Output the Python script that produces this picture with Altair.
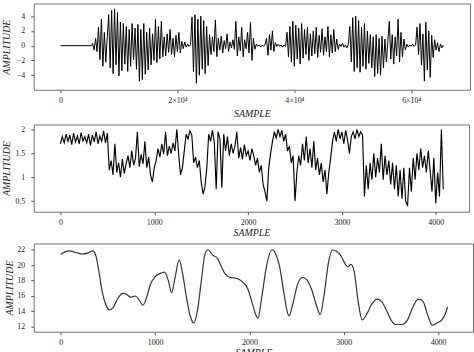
import altair as alt
import numpy as np
import pandas as pd

# ---------------- Panel 1: speech waveform (65536 samples) ----------------
speech_lead_x = [0, 5300]
speech_lead_y = [0.0, 0.0]
speech_start = 5500
speech_step = 250
speech_amp = [
    0.3, -0.6, 1.0, -0.8,
    2.5, -1.9, 3.6,
    -2.8, 1.8, -2.2, 1.2,
    4.2, -3.0, 4.8, -3.8, 5.0, -2.6, 4.5, -4.1, 3.2, -3.4,
    3.0, -2.5, 2.6, -3.5, 2.2, -2.8, 3.0, -1.9, 2.4,
    -3.2, 2.9, -4.8, 2.2, -4.6, 3.0, -3.9, 1.8,
    -3.3, 2.4, -2.6, 1.6, -2.0,
    3.6, -2.3, 2.6, -1.8, 3.3, -1.5,
    1.2, -1.4, 1.6, -0.9, 2.2, -1.2, 1.0, -1.5, 1.4, -0.8, 1.8, -1.0, 0.6, -0.4, 0.5,
    -0.2, 0.2, -0.1, 0.1,
    3.9, -3.5, 4.2, -5.1, 3.6, -4.0, 4.0, -3.2, 3.4, -3.8, 2.6, -2.7, 1.5, -1.2,
    1.2, -0.8, 3.5, -1.5, 1.0, -0.6, 1.3, -1.0, 0.7, -0.4, 1.6, -0.8, 0.5, -0.3, 0.8,
    -0.5, 3.3, -1.4, 1.2, -0.7, 2.5, -1.5, 0.8, -0.4, 1.8, -1.0, 3.2, -2.0, 1.0, -0.5,
    0.2, -0.1, 0.1, -0.2, 0.1, -0.1, 0.2,
    1.0, -1.3, 1.5, -0.6, 2.0, -0.8, 0.4,
    -0.1, 0.2, -0.1, 0.1, -0.2, 0.1, -0.1,
    1.8, -1.5, 2.6, -2.2, 3.3, -2.8, 2.8, -1.8, 2.4, -2.5, 3.0, -1.7, 2.2, -1.2,
    2.5, -2.0, 1.6, -1.4, 2.0, -1.1, 2.5, -1.6, 1.4, -0.9, 2.3, -1.3, 1.2, -0.8, 2.6, -1.5, 1.5, -1.0, 2.2, -0.8, 0.9, -0.5,
    0.2, -0.1, 0.3, -0.2, 0.1, -0.3, 0.2,
    2.6, -2.2, 3.8, -3.5, 4.0, -3.0, 3.4, -3.6, 2.5, -2.8, 3.0, -3.2, 2.0, -2.4, 1.5, -3.0,
    1.2, -4.2, 1.5, -3.8, 1.0, -4.0, 1.3, -3.0, 0.9, -2.2, 0.6,
    3.3, -1.8, 1.5, -2.5, 1.2, -1.4, 3.6, -2.2, 1.8, -1.5, 0.9, -0.6,
    0.2, -0.2, 0.1, -0.1, 0.2, -0.1, 0.1,
    2.5, -1.2, 3.0, -2.6, 1.6, -4.8, 3.2, -3.3, 2.0, -4.3, 1.4, -1.6, 0.8,
    -0.6, 0.4, -0.8, 0.2, -0.3, 0.1,
]

# ---------------- Panel 2: noisy level trace (4096 samples) ----------------
level_step = 20
level_val = [
    1.70, 1.85, 1.72, 1.90, 1.75, 1.88, 1.68, 1.92, 1.74, 1.86,
    1.70, 1.93, 1.76, 1.85, 1.72, 1.90, 1.66, 1.88, 1.74, 1.95,
    1.70, 1.86, 1.75, 1.97, 1.72, 1.92,
    1.15,
    1.35, 1.05, 1.70, 1.10, 1.30, 1.00, 1.38, 1.08, 1.28,
    1.45, 1.20, 1.55, 1.25, 1.40, 1.95, 1.22, 1.48, 1.28, 1.75, 1.20, 1.42,
    1.05, 0.90, 1.20, 1.35,
    1.60, 1.42, 1.70, 1.48, 1.95, 1.45, 1.65, 1.50, 1.72, 1.55, 2.00, 1.48,
    1.05, 1.20, 1.55,
    1.90, 1.80, 1.97, 1.88,
    1.30, 1.42, 1.20, 1.35,
    0.90, 0.65, 0.80, 1.20,
    1.90, 1.75, 1.98, 1.72, 0.75, 1.95, 1.80, 0.78, 1.90,
    1.55, 1.85, 1.45, 1.70,
    1.50, 1.65, 1.95,
    1.40, 1.62, 1.38, 1.68, 1.45, 1.55, 1.35, 1.60,
    1.45, 1.25, 1.40, 1.10, 1.25, 0.85, 0.70,
    0.50,
    1.20, 1.50, 1.75, 1.95,
    1.82, 2.00, 1.85, 1.98, 1.75, 1.90,
    1.55, 1.65, 1.30, 1.45,
    0.50,
    1.10, 1.45, 1.25, 1.70, 1.35, 1.85, 1.30, 1.60, 1.20, 1.75,
    1.15, 1.40, 1.05, 1.30, 0.90, 1.15, 0.65,
    1.10, 1.40, 1.75,
    1.95, 1.75, 2.00, 1.80, 1.95, 1.70, 1.98, 1.78, 1.50, 1.85,
    1.95, 1.80, 2.00, 1.85, 1.95, 1.88,
    0.60,
    1.25, 0.75, 1.30, 0.95, 1.50,
    1.00, 1.40, 1.10, 1.70, 0.95, 1.45, 1.05, 1.35, 0.85, 1.30,
    0.75, 1.25, 0.60, 1.15, 0.55, 1.20, 0.50, 0.40,
    1.20, 0.70, 1.40, 0.95, 1.50,
    1.15, 1.60, 1.20, 1.45, 1.10, 1.55, 1.15,
    0.70, 1.40, 0.45, 1.10, 0.60,
    2.00, 0.75,
]

# ---------------- Panel 3: smooth trace (4096 samples) ----------------
smooth_x = [0, 40, 90, 160, 230, 290, 340, 370, 400, 440, 480, 520, 560, 610,
            660, 700, 740, 790, 830, 870, 910, 950, 1000, 1050, 1100, 1140,
            1175, 1210, 1255, 1290, 1330, 1370, 1410, 1450, 1490, 1530, 1560,
            1610, 1660, 1700, 1740, 1800, 1860, 1920, 1980, 2020, 2060, 2090,
            2130, 2180, 2240, 2280, 2320, 2360, 2400, 2420, 2460, 2510, 2560,
            2610, 2660, 2710, 2750, 2790, 2840, 2880, 2920, 2960, 3000, 3040,
            3075, 3110, 3150, 3195, 3250, 3300, 3350, 3400, 3450, 3500, 3550,
            3620, 3680, 3730, 3790, 3840, 3890, 3940, 3990, 4040, 4080, 4100]
smooth_y = [21.4, 21.7, 21.85, 21.65, 21.45, 21.6, 21.85, 21.3, 19.5, 16.5,
            14.8, 14.2, 14.6, 15.8, 16.35, 16.2, 15.85, 16.0, 15.5, 14.8, 15.8,
            17.5, 18.5, 18.9, 19.1, 18.0, 16.4, 18.3, 20.7, 19.0, 16.0, 13.5,
            12.5, 14.2, 18.0, 21.5, 22.0, 21.3, 20.9, 19.9, 18.9, 18.4, 18.3,
            17.9, 17.0, 15.5, 13.8, 13.1, 15.8, 19.8, 22.0, 21.4, 19.8, 16.8,
            14.0, 13.4, 15.0, 17.5, 18.4, 18.1, 16.8, 14.8, 13.6, 16.0, 20.5,
            22.0, 21.8, 21.4, 20.5, 19.8, 20.1, 19.2, 15.5, 12.9, 13.8, 15.0,
            15.6, 15.3, 14.2, 12.9, 12.3, 12.3, 13.0, 14.5, 15.6, 15.3, 13.5,
            12.2, 12.5, 12.9, 13.8, 14.6]

# ---------------- build tables ----------------
df1 = pd.DataFrame({
    "x": list(speech_lead_x) + list(speech_start + speech_step * np.arange(len(speech_amp))),
    "y": list(speech_lead_y) + list(speech_amp),
})
df2 = pd.DataFrame({"x": level_step * np.arange(len(level_val)), "y": level_val})
df3 = pd.DataFrame({"x": smooth_x, "y": smooth_y})

SERIF = "Liberation Serif"
common = dict(domain=False, grid=False, tickSize=3, tickColor="#555555",
              labelFont=SERIF, labelFontSize=8, labelColor="#222222",
              titleFont=SERIF, titleFontStyle="italic", titleFontWeight="normal",
              titleFontSize=10, titleColor="#222222")


def xaxis(values, title_pad, label_expr=None, fmt=None):
    kw = dict(common)
    kw.update(values=values, title="SAMPLE", labelPadding=4, titlePadding=title_pad)
    if label_expr:
        kw["labelExpr"] = label_expr
    if fmt:
        kw["format"] = fmt
    return alt.Axis(**kw)


def yaxis(values, extent, fmt="~g"):
    kw = dict(common)
    kw.update(values=values, title="AMPLITUDE", labelPadding=6, titlePadding=2,
              minExtent=extent, maxExtent=extent, format=fmt)
    return alt.Axis(**kw)


p1 = alt.Chart(df1).mark_line(color="black", strokeWidth=1.0).encode(
    x=alt.X("x:Q", scale=alt.Scale(domain=[-4580, 70060], nice=False, zero=False),
            axis=xaxis([0, 20000, 40000, 60000], 4,
                       label_expr="datum.value == 0 ? '0' : (datum.value / 10000) + '×10⁴'")),
    y=alt.Y("y:Q", scale=alt.Scale(domain=[-5.98, 5.72], nice=False, zero=False),
            axis=yaxis([-4, -2, 0, 2, 4], 20)),
    order="x:Q",
).properties(width=440, height=87)

p2 = alt.Chart(df2).mark_line(color="black", strokeWidth=1.15).encode(
    x=alt.X("x:Q", scale=alt.Scale(domain=[-285, 4355], nice=False, zero=False),
            axis=xaxis([0, 1000, 2000, 3000, 4000], 1, fmt="d")),
    y=alt.Y("y:Q", scale=alt.Scale(domain=[0.279, 2.103], nice=False, zero=False),
            axis=yaxis([0.5, 1, 1.5, 2], 20)),
    order="x:Q",
).properties(width=439, height=88)

p3 = alt.Chart(df3).mark_line(color="#333333", strokeWidth=1.2, interpolate="monotone").encode(
    x=alt.X("x:Q", scale=alt.Scale(domain=[-287, 4370], nice=False, zero=False),
            axis=xaxis([0, 1000, 2000, 3000, 4000], 1, fmt="d")),
    y=alt.Y("y:Q", scale=alt.Scale(domain=[11.36, 22.82], nice=False, zero=False),
            axis=yaxis([12, 14, 16, 18, 20, 22], 17.5)),
    order="x:Q",
).properties(width=443, height=89)

chart = alt.vconcat(p1, p2, p3, spacing=4).properties(
    padding={"left": 1, "top": 1, "right": 0, "bottom": 0},
    background="white",
).configure_view(stroke="#707070", strokeWidth=1)

chart.save("out.html", embed_options={"renderer": "svg", "actions": False})
